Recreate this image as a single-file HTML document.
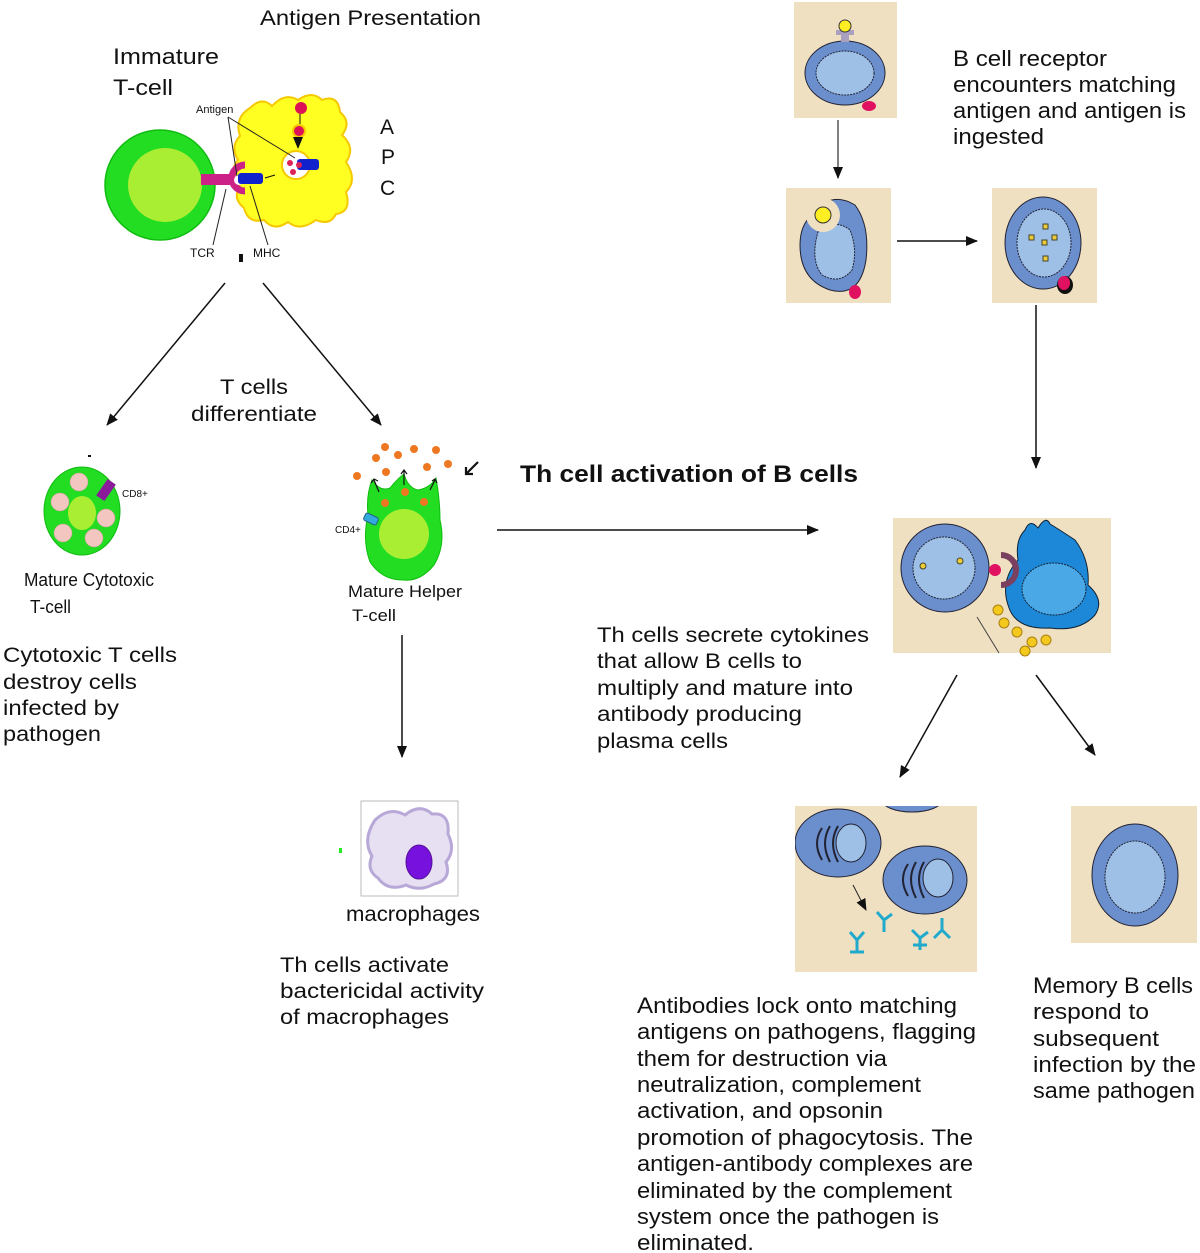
<!DOCTYPE html>
<html><head><meta charset="utf-8">
<style>
html,body{margin:0;padding:0;background:#fff;}
svg{display:block;}
text{font-family:"Liberation Sans",sans-serif;fill:#111;}
</style></head>
<body>
<svg width="1200" height="1253" viewBox="0 0 1200 1253" xmlns="http://www.w3.org/2000/svg">
<defs>
<marker id="ah" markerWidth="12" markerHeight="10" refX="11" refY="5" orient="auto" markerUnits="userSpaceOnUse">
<path d="M0,0 L12,5 L0,10 Z" fill="#111"/>
</marker>
</defs>

<!-- ===== Antigen presentation ===== -->
<text x="260" y="25" font-size="21" textLength="221" lengthAdjust="spacingAndGlyphs">Antigen Presentation</text>
<text x="113" y="64" font-size="22" textLength="106" lengthAdjust="spacingAndGlyphs" fill="#333">Immature</text>
<text x="113" y="95" font-size="22" textLength="60" lengthAdjust="spacingAndGlyphs">T-cell</text>

<!-- APC blob -->
<path d="M250,108 Q262,96 272,106 Q285,92 298,100 Q312,90 322,100 Q338,94 340,112 Q352,122 342,135 Q356,148 346,162 Q358,180 346,192 Q352,212 336,214 Q330,226 316,220 Q300,232 288,222 Q274,232 264,220 Q248,224 244,208 Q232,198 240,186 Q228,172 238,160 Q230,146 240,136 Q234,118 250,108 Z" fill="#ffff22" stroke="#f6c800" stroke-width="2"/>
<!-- T cell -->
<circle cx="160" cy="185" r="55" fill="#22dd22" stroke="#11bb11" stroke-width="1.5"/>
<circle cx="165" cy="185" r="37" fill="#aaee33"/>
<!-- TCR -->
<rect x="201" y="174" width="30" height="11" fill="#cc2288"/>
<path d="M245,165 A13,13 0 1,0 245,191" fill="none" stroke="#cc2288" stroke-width="7"/>
<circle cx="239" cy="180" r="5" fill="#fff"/>
<rect x="238" y="173" width="25" height="11" rx="3" fill="#1122cc"/>
<!-- vesicle -->
<circle cx="296" cy="165" r="14" fill="#fff" stroke="#f6c800" stroke-width="2"/>
<rect x="297" y="159" width="22" height="11" rx="3" fill="#1122cc"/>
<circle cx="290" cy="163" r="3" fill="#dd2255"/><circle cx="293" cy="172" r="3" fill="#dd2255"/><circle cx="299" cy="165" r="3" fill="#dd2255"/>
<circle cx="301" cy="108" r="6" fill="#dd1155"/>
<circle cx="299" cy="131" r="6" fill="#dd1155" stroke="#f6c800" stroke-width="2"/>
<line x1="300" y1="114" x2="300" y2="124" stroke="#111"/>
<line x1="298" y1="137" x2="298" y2="148" stroke="#111" marker-end="url(#ah)" />
<line x1="275" y1="175" x2="265" y2="178" stroke="#111"/>
<!-- labels -->
<text x="196" y="113" font-size="11" fill="#222">Antigen</text>
<line x1="228" y1="117" x2="295" y2="158" stroke="#222" stroke-width="1"/>
<line x1="228" y1="117" x2="237" y2="176" stroke="#222" stroke-width="1"/>
<line x1="226" y1="189" x2="213" y2="245" stroke="#222" stroke-width="1"/>
<line x1="250" y1="186" x2="268" y2="245" stroke="#222" stroke-width="1"/>
<text x="190" y="257" font-size="12" fill="#333">TCR</text>
<text x="253" y="257" font-size="12" fill="#333">MHC</text>
<rect x="239" y="254" width="4" height="8" fill="#111"/>
<text x="380" y="134" font-size="21">A</text>
<text x="381" y="164" font-size="21">P</text>
<text x="380" y="195" font-size="21">C</text>

<!-- differentiate arrows -->
<line x1="225" y1="283" x2="107" y2="425" stroke="#111" stroke-width="1.5" marker-end="url(#ah)"/>
<line x1="263" y1="283" x2="381" y2="425" stroke="#111" stroke-width="1.5" marker-end="url(#ah)"/>
<text x="220" y="394" font-size="21" textLength="68" lengthAdjust="spacingAndGlyphs">T cells</text>
<text x="191" y="421" font-size="21" textLength="126" lengthAdjust="spacingAndGlyphs">differentiate</text>

<!-- Cytotoxic T cell -->
<rect x="88" y="455" width="3" height="2" fill="#111"/>
<ellipse cx="82" cy="511" rx="38" ry="44" fill="#22dd22" stroke="#11bb11" stroke-width="1"/>
<ellipse cx="82" cy="513" rx="14" ry="17" fill="#aaee33"/>
<g fill="#f4c6c0" stroke="#cc9999" stroke-width="0.5">
<circle cx="79" cy="482" r="9"/><circle cx="60" cy="502" r="9"/><circle cx="106" cy="518" r="9"/><circle cx="63" cy="533" r="9"/><circle cx="94" cy="538" r="9"/>
</g>
<rect x="101" y="480" width="10" height="20" fill="#8a1a9a" transform="rotate(35 106 490)"/>
<text x="122" y="497" font-size="10" fill="#333">CD8+</text>
<text x="24" y="586" font-size="18" textLength="130" lengthAdjust="spacingAndGlyphs">Mature Cytotoxic</text>
<text x="30" y="613" font-size="18" textLength="41" lengthAdjust="spacingAndGlyphs">T-cell</text>
<g font-size="21">
<text x="3" y="662" textLength="174" lengthAdjust="spacingAndGlyphs">Cytotoxic T cells</text>
<text x="3" y="689" textLength="134" lengthAdjust="spacingAndGlyphs">destroy cells</text>
<text x="3" y="715" textLength="116" lengthAdjust="spacingAndGlyphs">infected by</text>
<text x="3" y="741" textLength="98" lengthAdjust="spacingAndGlyphs">pathogen</text>
</g>

<!-- Helper T cell -->
<path d="M372,480 Q380,492 390,488 Q398,478 404,474 Q408,488 418,490 Q430,488 436,478 Q440,500 440,520 Q446,545 434,565 Q420,582 403,580 Q382,580 370,562 Q362,540 368,515 Q366,495 372,480 Z" fill="#22dd22" stroke="#11bb11"/>
<circle cx="404" cy="534" r="25" fill="#aaee33"/>
<rect x="364" y="515" width="14" height="8" rx="2" fill="#33aadd" stroke="#226688" transform="rotate(25 371 519)"/>
<text x="335" y="533" font-size="10" fill="#333">CD4+</text>
<g fill="#ee7722">
<circle cx="385" cy="447" r="4"/><circle cx="376" cy="458" r="4"/><circle cx="398" cy="455" r="4"/><circle cx="414" cy="449" r="4"/><circle cx="436" cy="450" r="4"/><circle cx="357" cy="476" r="4"/><circle cx="386" cy="472" r="4"/><circle cx="427" cy="467" r="4"/><circle cx="448" cy="464" r="4"/><circle cx="405" cy="492" r="4"/><circle cx="385" cy="503" r="4"/><circle cx="424" cy="502" r="4"/>
</g>
<g stroke="#111" stroke-width="1.2" fill="none">
<path d="M379,492 L374,480 M371,483 L374,479 L378,481"/>
<path d="M404,485 L404,470 M401,474 L404,470 L407,474"/>
<path d="M430,490 L435,480 M432,481 L435,479 L437,483"/>
</g>
<path d="M478,462 L466,474 M466,467 L466,474 L473,474" stroke="#111" stroke-width="2.2" fill="none"/>
<text x="348" y="597" font-size="17" textLength="114" lengthAdjust="spacingAndGlyphs">Mature Helper</text>
<text x="352" y="621" font-size="17" textLength="44" lengthAdjust="spacingAndGlyphs">T-cell</text>

<line x1="402" y1="635" x2="402" y2="757" stroke="#111" stroke-width="1.5" marker-end="url(#ah)"/>

<!-- macrophage -->
<rect x="361" y="801" width="97" height="95" fill="#fff" stroke="#bbb"/>
<path d="M375,820 Q390,806 405,815 Q420,803 432,814 Q450,812 448,834 Q456,850 446,862 Q452,880 434,884 Q420,892 406,885 Q388,892 378,878 Q366,870 372,856 Q362,840 375,820 Z" fill="#e6e0f2" stroke="#b8a8d8" stroke-width="3"/>
<ellipse cx="419" cy="862" rx="13" ry="17" fill="#7711dd" stroke="#551199"/>
<rect x="339" y="848" width="3" height="5" fill="#22ee22"/>
<text x="346" y="921" font-size="21" textLength="134" lengthAdjust="spacingAndGlyphs">macrophages</text>
<g font-size="21">
<text x="280" y="972" textLength="169" lengthAdjust="spacingAndGlyphs">Th cells activate</text>
<text x="280" y="998" textLength="204" lengthAdjust="spacingAndGlyphs">bactericidal activity</text>
<text x="280" y="1024" textLength="169" lengthAdjust="spacingAndGlyphs">of macrophages</text>
</g>

<!-- Th activation -->
<text x="520" y="482" font-size="24" font-weight="bold" textLength="338" lengthAdjust="spacingAndGlyphs">Th cell activation of B cells</text>
<line x1="497" y1="530" x2="818" y2="530" stroke="#111" stroke-width="1.5" marker-end="url(#ah)"/>
<g font-size="21">
<text x="597" y="642" textLength="272" lengthAdjust="spacingAndGlyphs">Th cells secrete cytokines</text>
<text x="597" y="668" textLength="205" lengthAdjust="spacingAndGlyphs">that allow B cells to</text>
<text x="597" y="695" textLength="256" lengthAdjust="spacingAndGlyphs">multiply and mature into</text>
<text x="597" y="721" textLength="205" lengthAdjust="spacingAndGlyphs">antibody producing</text>
<text x="597" y="748" textLength="131" lengthAdjust="spacingAndGlyphs">plasma cells</text>
</g>

<!-- B cell boxes -->
<rect x="794" y="2" width="103" height="116" fill="#f0e0c2"/>
<ellipse cx="845" cy="73" rx="40" ry="32" fill="#6a8fcc" stroke="#223" stroke-width="1"/>
<ellipse cx="845" cy="73" rx="29" ry="22" fill="#9ec0e6" stroke="#223" stroke-dasharray="2,1"/>
<rect x="841" y="32" width="8" height="10" fill="#aaa0c0"/>
<rect x="836" y="30" width="18" height="5" fill="#aaa0c0"/>
<circle cx="845" cy="26" r="6" fill="#ffee22" stroke="#333"/>
<ellipse cx="869" cy="106" rx="7" ry="5" fill="#e01160"/>
<line x1="838" y1="120" x2="838" y2="178" stroke="#555" stroke-width="1.5" marker-end="url(#ah)"/>

<rect x="786" y="188" width="105" height="115" fill="#f0e0c2"/>
<path d="M812,215 Q830,190 855,205 Q870,225 866,260 Q860,298 830,290 Q800,280 800,245 Q800,225 812,215 Z" fill="#6a8fcc" stroke="#223"/>
<path d="M818,232 Q835,218 850,230 Q858,250 852,270 Q840,285 822,275 Q810,260 818,232 Z" fill="#9ec0e6" stroke="#223" stroke-dasharray="2,1"/>
<circle cx="823" cy="215" r="17" fill="#f0e0c2"/>
<circle cx="823" cy="215" r="8" fill="#ffee22" stroke="#333"/>
<ellipse cx="855" cy="292" rx="6" ry="7" fill="#e01160"/>
<line x1="897" y1="241" x2="977" y2="241" stroke="#111" stroke-width="1.5" marker-end="url(#ah)"/>

<rect x="992" y="188" width="105" height="115" fill="#f0e0c2"/>
<ellipse cx="1043" cy="243" rx="38" ry="46" fill="#6a8fcc" stroke="#223"/>
<ellipse cx="1044" cy="243" rx="27" ry="34" fill="#9ec0e6" stroke="#223" stroke-dasharray="2,1"/>
<g fill="#eecc33" stroke="#443"><rect x="1043" y="224" width="5" height="5"/><rect x="1029" y="235" width="5" height="5"/><rect x="1052" y="235" width="5" height="5"/><rect x="1042" y="240" width="5" height="5"/><rect x="1043" y="256" width="5" height="5"/></g>
<ellipse cx="1065" cy="285" rx="8" ry="9" fill="#111"/>
<ellipse cx="1064" cy="283" rx="6" ry="7" fill="#e01160"/>
<line x1="1036" y1="305" x2="1036" y2="468" stroke="#111" stroke-width="1.5" marker-end="url(#ah)"/>

<g font-size="22">
<text x="953" y="66" textLength="154" lengthAdjust="spacingAndGlyphs">B cell receptor</text>
<text x="953" y="92" textLength="223" lengthAdjust="spacingAndGlyphs">encounters matching</text>
<text x="953" y="118" textLength="233" lengthAdjust="spacingAndGlyphs">antigen and antigen is</text>
<text x="953" y="144" textLength="91" lengthAdjust="spacingAndGlyphs">ingested</text>
</g>

<!-- activation box -->
<rect x="893" y="518" width="218" height="135" fill="#f0e0c2"/>
<circle cx="945" cy="568" r="44" fill="#6a8fcc" stroke="#223"/>
<circle cx="944" cy="568" r="31" fill="#9ec0e6" stroke="#223" stroke-dasharray="2,1"/>
<circle cx="923" cy="566" r="3" fill="#eecc33" stroke="#443"/><circle cx="960" cy="561" r="3" fill="#eecc33" stroke="#443"/>
<path d="M1025,530 Q1030,518 1038,528 Q1046,515 1050,524 Q1060,530 1075,540 Q1090,560 1088,585 Q1105,600 1095,615 Q1080,632 1050,628 Q1015,630 1008,605 Q1000,580 1018,560 Q1015,540 1025,530 Z" fill="#1e88d8" stroke="#123" stroke-width="1"/>
<ellipse cx="1054" cy="589" rx="32" ry="26" fill="#4aa8e6" stroke="#123" stroke-dasharray="2,1"/>
<path d="M1001,555 A14,14 0 0,1 1001,585" fill="none" stroke="#7a4060" stroke-width="6"/>
<circle cx="995" cy="570" r="6" fill="#e01160"/>
<g fill="#f4c81c" stroke="#a88010"><circle cx="998" cy="610" r="5"/><circle cx="1004" cy="623" r="5"/><circle cx="1017" cy="632" r="5"/><circle cx="1032" cy="642" r="5"/><circle cx="1046" cy="640" r="5"/><circle cx="1025" cy="651" r="5"/></g>
<line x1="977" y1="617" x2="999" y2="653" stroke="#444" stroke-width="1"/>

<line x1="957" y1="675" x2="900" y2="777" stroke="#111" stroke-width="1.5" marker-end="url(#ah)"/>
<line x1="1036" y1="675" x2="1095" y2="755" stroke="#111" stroke-width="1.5" marker-end="url(#ah)"/>

<!-- plasma cell box -->
<rect x="795" y="806" width="182" height="166" fill="#f0e0c2"/>
<clipPath id="cp"><rect x="795" y="806" width="182" height="166"/></clipPath>
<g clip-path="url(#cp)">
<ellipse cx="912" cy="800" rx="30" ry="12" fill="#6a8fcc" stroke="#223"/>
<ellipse cx="838" cy="843" rx="43" ry="34" fill="#6a8fcc" stroke="#223"/>
<ellipse cx="851" cy="843" rx="15" ry="19" fill="#9ec0e6" stroke="#223"/>
<path d="M822,828 Q812,843 822,860 M830,826 Q820,843 830,862 M838,826 Q828,843 838,862" fill="none" stroke="#223" stroke-width="2"/>
<ellipse cx="925" cy="880" rx="42" ry="34" fill="#6a8fcc" stroke="#223"/>
<ellipse cx="938" cy="878" rx="15" ry="19" fill="#9ec0e6" stroke="#223"/>
<path d="M908,864 Q898,879 908,896 M916,862 Q906,879 916,898 M924,862 Q914,879 924,898" fill="none" stroke="#223" stroke-width="2"/>
</g>
<line x1="853" y1="885" x2="866" y2="910" stroke="#222" stroke-width="1" marker-end="url(#ah)"/>
<g stroke="#22aacc" stroke-width="3" fill="none">
<path d="M857,952 L857,940 M857,940 L850,932 M857,940 L864,932 M850,952 L864,952"/>
<path d="M884,920 L884,932 M884,920 L877,912 M884,920 L892,914"/>
<path d="M920,950 L920,938 M920,938 L912,930 M920,938 L928,932 M913,945 L927,945"/>
<path d="M942,932 L942,918 M942,930 L950,938 M942,930 L934,938"/>
</g>

<!-- memory cell box -->
<rect x="1071" y="806" width="126" height="137" fill="#f0e0c2"/>
<ellipse cx="1135" cy="875" rx="43" ry="51" fill="#6a8fcc" stroke="#223"/>
<ellipse cx="1135" cy="877" rx="30" ry="36" fill="#9ec0e6" stroke="#223" stroke-dasharray="2,1"/>

<g font-size="22">
<text x="637" y="1013" textLength="320" lengthAdjust="spacingAndGlyphs">Antibodies lock onto matching</text>
<text x="637" y="1039" textLength="339" lengthAdjust="spacingAndGlyphs">antigens on pathogens, flagging</text>
<text x="637" y="1066" textLength="250" lengthAdjust="spacingAndGlyphs">them for destruction via</text>
<text x="637" y="1092" textLength="284" lengthAdjust="spacingAndGlyphs">neutralization, complement</text>
<text x="637" y="1118" textLength="246" lengthAdjust="spacingAndGlyphs">activation, and opsonin</text>
<text x="637" y="1145" textLength="336" lengthAdjust="spacingAndGlyphs">promotion of phagocytosis. The</text>
<text x="637" y="1171" textLength="336" lengthAdjust="spacingAndGlyphs">antigen-antibody complexes are</text>
<text x="637" y="1198" textLength="315" lengthAdjust="spacingAndGlyphs">eliminated by the complement</text>
<text x="637" y="1224" textLength="302" lengthAdjust="spacingAndGlyphs">system once the pathogen is</text>
<text x="637" y="1250" textLength="117" lengthAdjust="spacingAndGlyphs">eliminated.</text>
<text x="1033" y="993" textLength="160" lengthAdjust="spacingAndGlyphs">Memory B cells</text>
<text x="1033" y="1019" textLength="116" lengthAdjust="spacingAndGlyphs">respond to</text>
<text x="1033" y="1046" textLength="126" lengthAdjust="spacingAndGlyphs">subsequent</text>
<text x="1033" y="1072" textLength="163" lengthAdjust="spacingAndGlyphs">infection by the</text>
<text x="1033" y="1098" textLength="162" lengthAdjust="spacingAndGlyphs">same pathogen</text>
</g>
</svg>
</body></html>
